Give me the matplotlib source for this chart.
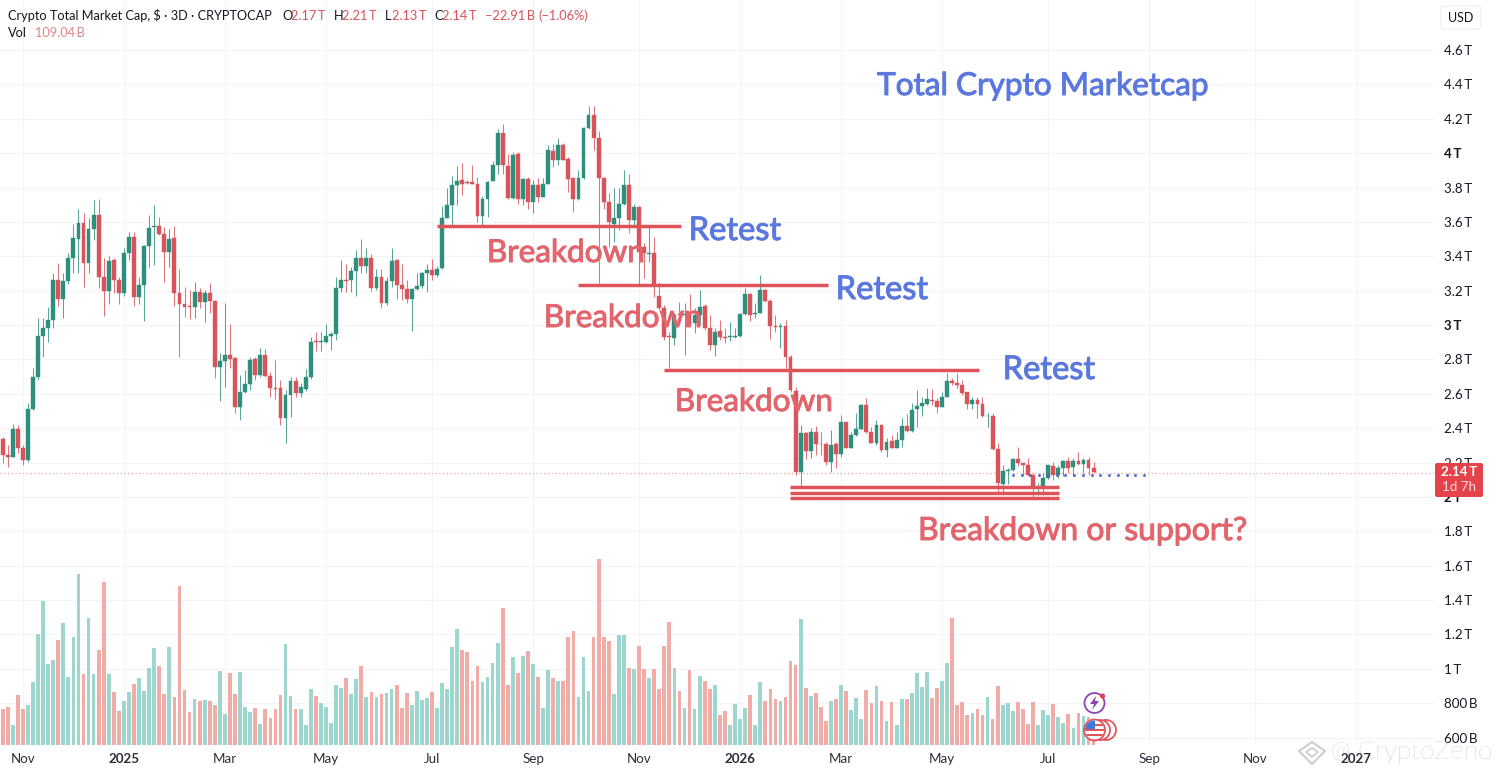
import numpy as np
import matplotlib
matplotlib.use('Agg')
import matplotlib.pyplot as plt
import matplotlib.patheffects as pe
from matplotlib.patches import Circle, FancyBboxPatch, Polygon, Rectangle

plt.rcParams['font.family'] = ['Lato', 'DejaVu Sans']

# OHLC in trillions, one candle every 3 days
opens = [2.335,2.244,2.234,2.395,2.287,2.215,2.510,2.696,2.936,2.981,3.029,3.262,3.149,3.256,3.391,3.500,3.595,3.362,3.556,3.643,
         3.281,3.200,3.378,3.265,3.184,3.417,3.514,3.161,3.231,3.461,3.572,3.578,3.529,3.426,3.506,3.188,3.122,3.110,3.103,3.192,
         3.134,3.188,3.141,2.754,2.789,2.826,2.808,2.525,2.609,2.655,2.800,2.709,2.826,2.705,2.634,2.632,2.457,2.593,2.672,2.603,
         2.626,2.699,2.907,2.903,2.901,2.936,2.948,3.213,3.261,3.261,3.314,3.393,3.345,3.389,3.217,3.279,3.128,3.256,3.376,3.232,
         3.209,3.151,3.209,3.227,3.302,3.318,3.291,3.333,3.620,3.701,3.814,3.841,3.831,3.831,3.823,3.636,3.732,3.837,3.930,4.118,
         3.926,3.742,3.994,3.732,3.851,3.713,3.816,3.746,3.823,4.015,3.959,4.046,3.967,3.856,3.734,3.855,4.147,4.221,4.091,3.858,
         3.713,3.587,3.620,3.703,3.812,3.610,3.684,3.456,3.411,3.417,3.171,3.097,2.936,2.927,3.062,3.058,3.064,3.010,3.058,3.111,
         2.981,2.884,2.965,2.930,2.929,2.930,2.936,3.062,3.182,3.064,3.072,3.204,3.142,2.994,2.989,2.994,2.812,2.618,2.148,2.370,
         2.270,2.378,2.310,2.310,2.206,2.306,2.248,2.436,2.287,2.359,2.396,2.535,2.380,2.312,2.421,2.274,2.328,2.287,2.332,2.413,
         2.384,2.510,2.531,2.541,2.564,2.558,2.526,2.584,2.675,2.665,2.653,2.609,2.541,2.564,2.541,2.471,2.473,2.279,2.076,2.153,
         2.157,2.223,2.200,2.184,2.128,2.055,2.057,2.109,2.181,2.128,2.169,2.210,2.173,2.210,2.192,2.215,2.167]
highs = [2.351,2.302,2.422,2.419,2.302,2.545,2.748,3.043,3.043,3.103,3.300,3.362,3.304,3.417,3.587,3.678,3.649,3.620,3.727,3.736,
         3.393,3.401,3.393,3.281,3.446,3.543,3.543,3.277,3.465,3.640,3.698,3.626,3.572,3.556,3.576,3.329,3.223,3.203,3.252,3.213,
         3.203,3.242,3.145,2.839,3.126,3.006,2.816,2.709,2.738,2.816,2.816,2.864,2.858,2.729,2.796,2.680,2.622,2.700,2.700,2.661,
         2.742,2.928,2.957,2.961,3.006,2.957,3.281,3.378,3.358,3.339,3.436,3.500,3.446,3.413,3.329,3.325,3.281,3.446,3.382,3.358,
         3.261,3.213,3.300,3.310,3.355,3.382,3.345,3.692,3.800,3.866,3.924,3.944,3.843,3.934,3.862,3.752,3.839,3.955,4.143,4.172,
         3.998,4.008,4.008,3.856,3.862,3.843,3.858,3.853,4.046,4.056,4.091,4.060,3.979,3.858,3.901,4.153,4.273,4.273,4.128,3.862,
         3.769,3.800,3.800,3.901,3.878,3.707,3.692,3.475,3.582,3.510,3.252,3.117,2.961,3.068,3.136,3.126,3.179,3.097,3.204,3.122,
         3.058,2.981,3.029,2.981,3.020,2.981,3.068,3.213,3.188,3.126,3.291,3.208,3.149,3.058,3.014,3.029,2.826,2.642,2.419,2.380,
         2.399,2.413,2.380,2.322,2.390,2.322,2.477,2.438,2.380,2.487,2.541,2.574,2.409,2.448,2.425,2.341,2.361,2.380,2.458,2.483,
         2.545,2.622,2.584,2.632,2.626,2.574,2.613,2.719,2.690,2.719,2.681,2.613,2.584,2.580,2.580,2.487,2.487,2.312,2.186,2.167,
         2.225,2.289,2.200,2.225,2.142,2.080,2.138,2.186,2.206,2.186,2.215,2.231,2.225,2.260,2.225,2.231,2.206]
lows = [2.196,2.172,2.231,2.258,2.186,2.205,2.506,2.680,2.816,2.899,2.981,3.110,3.039,3.238,3.300,3.300,3.223,3.304,3.494,3.213,
        3.052,3.122,3.184,3.122,3.169,3.378,3.110,3.122,3.025,3.335,3.349,3.523,3.252,3.339,3.110,2.816,3.048,3.033,3.039,3.097,
        3.019,3.068,2.690,2.558,2.638,2.748,2.486,2.448,2.607,2.622,2.680,2.700,2.700,2.583,2.568,2.419,2.312,2.463,2.583,2.583,
        2.618,2.684,2.851,2.851,2.893,2.855,2.913,3.194,3.190,3.194,3.170,3.300,3.300,3.199,3.203,3.097,3.116,3.223,3.151,3.145,
        3.126,2.967,3.203,3.213,3.194,3.261,3.281,3.329,3.620,3.581,3.698,3.756,3.823,3.820,3.601,3.581,3.630,3.837,3.878,3.878,
        3.736,3.736,3.707,3.698,3.678,3.649,3.717,3.746,3.820,3.920,3.930,3.959,3.775,3.659,3.727,3.851,4.143,4.021,3.242,3.678,
        3.455,3.484,3.552,3.698,3.533,3.575,3.233,3.272,3.368,3.165,3.087,2.913,2.748,2.884,3.000,2.826,2.991,2.956,3.000,2.971,
        2.855,2.820,2.913,2.894,2.909,2.923,2.932,3.058,3.025,3.039,3.068,3.136,2.917,2.961,2.865,2.748,2.613,2.128,2.064,2.219,
        2.225,2.244,2.244,2.186,2.148,2.167,2.235,2.283,2.283,2.355,2.390,2.374,2.312,2.303,2.264,2.231,2.283,2.283,2.293,2.380,
        2.380,2.409,2.471,2.535,2.535,2.487,2.522,2.580,2.652,2.632,2.593,2.510,2.512,2.458,2.467,2.409,2.274,2.031,2.031,2.076,
        2.153,2.181,2.128,2.119,1.993,2.012,2.012,2.103,2.099,2.109,2.119,2.138,2.119,2.186,2.138,2.128,2.138]
closes = [2.244,2.234,2.393,2.283,2.215,2.512,2.696,2.936,2.981,3.029,3.262,3.149,3.256,3.391,3.504,3.595,3.362,3.556,3.640,3.281,
          3.200,3.372,3.265,3.184,3.417,3.514,3.165,3.233,3.461,3.566,3.576,3.527,3.426,3.502,3.188,3.122,3.107,3.105,3.190,3.134,
          3.184,3.138,2.754,2.789,2.826,2.804,2.525,2.609,2.655,2.796,2.709,2.824,2.705,2.632,2.630,2.457,2.593,2.672,2.603,2.641,
          2.696,2.899,2.899,2.909,2.936,2.949,3.213,3.261,3.256,3.314,3.393,3.345,3.389,3.217,3.277,3.128,3.256,3.372,3.232,3.209,
          3.151,3.209,3.227,3.304,3.318,3.291,3.329,3.620,3.701,3.812,3.837,3.823,3.825,3.823,3.636,3.732,3.833,3.930,4.118,3.930,
          3.742,3.992,3.736,3.851,3.715,3.814,3.746,3.823,4.017,3.959,4.046,3.963,3.851,3.734,3.855,4.147,4.221,4.089,3.858,3.713,
          3.599,3.620,3.703,3.812,3.610,3.684,3.427,3.417,3.421,3.227,3.097,2.932,2.930,3.058,3.056,3.062,3.000,3.058,3.107,2.981,
          2.884,2.961,2.929,2.925,2.934,2.936,3.062,3.182,3.058,3.072,3.204,3.142,2.994,2.987,2.994,2.816,2.622,2.148,2.370,2.270,
          2.376,2.306,2.306,2.202,2.303,2.248,2.436,2.283,2.359,2.396,2.535,2.380,2.312,2.419,2.274,2.322,2.287,2.332,2.413,2.386,
          2.506,2.531,2.545,2.568,2.558,2.526,2.584,2.675,2.661,2.652,2.603,2.541,2.564,2.541,2.471,2.473,2.277,2.080,2.153,2.157,
          2.223,2.196,2.186,2.128,2.055,2.060,2.109,2.183,2.128,2.169,2.210,2.171,2.212,2.192,2.215,2.167,2.148]

# volume in billions
volumes = [164,173,91,228,164,184,285,505,655,370,388,478,555,309,492,780,323,576,325,434,
           743,325,240,153,200,243,279,305,246,352,443,361,231,446,218,724,250,150,208,199,
           205,202,184,335,140,328,232,331,171,149,170,96,162,123,162,226,458,223,164,165,
           91,255,221,193,173,100,272,259,306,231,300,360,218,240,218,234,237,256,272,168,
           237,184,247,203,214,243,168,282,255,446,529,431,423,291,360,287,311,375,463,625,
           272,400,326,405,428,369,309,170,340,303,291,291,493,519,218,400,246,492,845,492,
           473,231,501,501,352,346,452,346,303,346,255,451,561,350,246,168,340,162,316,290,
           253,275,138,153,91,187,120,168,228,90,287,200,256,209,200,218,381,364,575,259,
           221,237,174,109,200,208,273,244,159,214,117,250,191,269,200,108,196,91,211,211,
           238,328,264,332,212,261,290,373,580,181,194,138,146,164,135,218,120,270,184,193,
           153,196,165,97,197,91,161,138,187,129,99,141,79,147,132,129,109]

price_ticks = [4.6,4.4,4.2,4.0,3.8,3.6,3.4,3.2,3.0,2.8,2.6,2.4,2.2,2.0,1.8,1.6,1.4,1.2,1.0,0.8,0.6]
price_labels = ['4.6\u2009T','4.4\u2009T','4.2\u2009T','4\u2009T','3.8\u2009T','3.6\u2009T','3.4\u2009T','3.2\u2009T',
                '3\u2009T','2.8\u2009T','2.6\u2009T','2.4\u2009T','2.2\u2009T','2\u2009T','1.8\u2009T','1.6\u2009T',
                '1.4\u2009T','1.2\u2009T','1\u2009T','800\u2009B','600\u2009B']
date_ticks = [4,24,44,64,85,105,126,146,166,186,207,227,248,268]
date_labels = ['Nov','2025','Mar','May','Jul','Sep','Nov','2026','Mar','May','Jul','Sep','Nov','2027']
last_close = 2.14

W, H = 1498, 777
GREEN = '#2f8f7d'
RED = '#d8535a'
VOL_GREEN = '#9dd6cf'
VOL_RED = '#f1aca8'
DRAW_RED = '#de5259'
TEXT_RED = '#e2646c'
TEXT_BLUE = '#5a78de'
DARK = '#131722'

fig = plt.figure(figsize=(W / 100, H / 100), dpi=100, facecolor='white')
ax = fig.add_axes([0, 32 / H, 1434 / W, 745 / H])
ax.set_xlim(-0.535, 283.4)
ax.set_ylim(0.557, 4.891)
ax_vol = ax.twinx()
ax_vol.set_ylim(0, 3390)
ax_vol.yaxis.set_visible(False)
ax_vol.patch.set_visible(False)

x = np.arange(len(opens))
o, h, l, c = map(np.array, (opens, highs, lows, closes))
colors = [GREEN if c[i] >= o[i] else RED for i in x]
vcolors = [VOL_GREEN if c[i] >= o[i] else VOL_RED for i in x]

# grid
ax.set_axisbelow(True)
ax.grid(True, color='#f3f4f6', linewidth=0.8)

# candles
ax.vlines(x, l, h, colors=colors, linewidth=0.75, alpha=0.8, zorder=2)
ax.bar(x, np.abs(c - o), bottom=np.minimum(o, c), width=0.76, color=colors,
       edgecolor=colors, linewidth=0.3, zorder=3)

# volume
ax_vol.bar(x, volumes, width=0.74, color=vcolors, linewidth=0)

# last price line and the projection dots
ax.axhline(last_close, color='#eda3a3', linewidth=0.9, linestyle=(0, (1, 2)), zorder=1)
ax.plot(np.linspace(200, 226, 16), [2.128] * 16, linestyle='none', marker='o', markersize=1.2,
        color='#4f66c4', alpha=0.85, zorder=4)

# drawn lines
for xa, xb, y in [(86, 134.3, 3.576), (113.9, 163.4, 3.233), (131, 193.3, 2.739),
                  (155.9, 209.2, 2.058), (155.9, 209.2, 2.023), (155.9, 209.2, 1.994)]:
    ax.plot([xa, xb], [y, y], color=DRAW_RED, linewidth=2.5, solid_capstyle='butt', zorder=5)

# axes
ax.yaxis.tick_right()
ax.set_yticks(price_ticks)
ax.set_yticklabels(price_labels, fontsize=9.6, color=DARK)
ax.set_xticks(date_ticks)
ax.set_xticklabels(date_labels, fontsize=9.6, color='#2a2e39')
ax.tick_params(axis='both', length=0)
ax.tick_params(axis='y', pad=7.2)
ax.tick_params(axis='x', pad=6)
for lab, val in zip(ax.get_yticklabels(), price_ticks):
    if val in (4.0, 3.0, 2.0):
        lab.set_fontweight('bold')
for lab in ax.get_xticklabels():
    if lab.get_text() in ('2025', '2026', '2027'):
        lab.set_fontweight('bold')
for a in (ax, ax_vol):
    for s in a.spines.values():
        s.set_visible(False)

# overlay in picture pixels, for the texts and the icons
top = fig.add_axes([0, 0, 1, 1], zorder=10)
top.set_xlim(0, W)
top.set_ylim(H, 0)
top.axis('off')

# header
head = [(8, 'Crypto Total Market Cap, $ · 3D · CRYPTOCAP', DARK), (282, 'O', DARK), (291, '2.17\u2009T', RED),
        (334, 'H', DARK), (342, '2.21\u2009T', RED), (385, 'L', DARK), (392, '2.13\u2009T', RED),
        (434, 'C', DARK), (442, '2.14\u2009T', RED), (485, '−22.91\u2009B', RED), (538, '(−1.06%)', RED)]
for px, s, col in head:
    top.text(px, 16, s, fontsize=9.2, color=col, va='center')
top.text(8, 33, 'Vol', fontsize=9.2, color=DARK, va='center')
top.text(35, 33, '109.04\u2009B', fontsize=9.2, color='#e0868a', va='center')


# annotations, a thin stroke makes them as heavy as the drawn labels
def label(px, py, s, col, size):
    top.text(px, py, s, fontsize=size, color=col, ha='center', va='center',
             path_effects=[pe.withStroke(linewidth=0.7, foreground=col)])


label(1043, 86, 'Total Crypto Marketcap', TEXT_BLUE, 22.7)
for px, py in [(735, 231), (882, 290), (1049, 370)]:
    label(px, py, 'Retest', TEXT_BLUE, 23.5)
for px, py in [(566, 253), (623, 318), (754, 402)]:
    label(px, py, 'Breakdown', TEXT_RED, 22.7)
label(1083, 531, 'Breakdown or support?', TEXT_RED, 23)

# USD box and price label
top.add_patch(FancyBboxPatch((1441, 6), 40, 23, boxstyle='round,pad=0,rounding_size=3', fc='white', ec='#eceef1', lw=0.8))
top.text(1461, 17.5, 'USD', fontsize=9, color=DARK, ha='center', va='center')
top.add_patch(FancyBboxPatch((1435, 463), 48, 34, boxstyle='round,pad=0,rounding_size=2', fc='#e5434c', ec='none'))
top.text(1459, 472, '2.14\u2009T', fontsize=9.6, color='white', ha='center', va='center', fontweight='bold')
top.text(1459, 487, '1d 7h', fontsize=9.6, color='#fbdcdd', ha='center', va='center')

# icons at the last candle
top.add_patch(Circle((1094.5, 703), 10, fc='white', ec='#8e44b5', lw=1.3))
top.add_patch(Polygon([(1096, 696), (1090, 704), (1094, 704), (1092, 710), (1099, 701), (1095, 701)], fc='#8e44b5', ec='none'))
top.add_patch(Circle((1102.5, 696), 2.6, fc='#e5434c', ec='none'))
for cx in (1106, 1100):
    top.add_patch(Circle((cx, 730), 10, fc='white', ec='#e0555c', lw=1.3))
top.add_patch(Circle((1094.5, 730), 10.5, fc='white', ec='#e0555c', lw=1.3))
flag_clip = Circle((1094.5, 730), 9.5, transform=top.transData)
for k in range(0, 4):
    st = Rectangle((1084, 723.5 + k * 5), 21, 2.5, fc='#e0555c', ec='none')
    top.add_patch(st)
    st.set_clip_path(flag_clip)
canton = Rectangle((1084, 720), 11, 9, fc='#3c78d8', ec='none')
top.add_patch(canton)
canton.set_clip_path(flag_clip)

# watermark
top.add_patch(Polygon([(1312, 742), (1325, 751), (1312, 764), (1299, 751)], fc='none', ec='#cccccc', lw=1.4))
top.add_patch(Polygon([(1312, 748), (1318, 752), (1312, 757), (1306, 752)], fc='none', ec='#cccccc', lw=1.2))
top.text(1330, 752, '@', fontsize=17, color='#b5b5b5', va='center', ha='left', fontweight='light')
top.text(1357, 752, 'CryptoZeno', fontsize=19, color='#b5b5b5', va='center', ha='left', fontweight='light')

fig.savefig('out.png', dpi=100, facecolor='white')
